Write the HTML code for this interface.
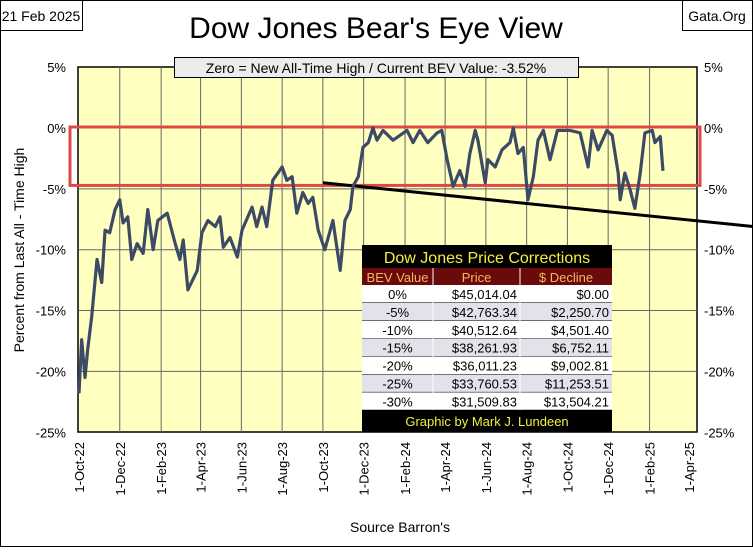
<!DOCTYPE html>
<html><head><meta charset="utf-8"><style>
body{margin:0;width:753px;height:547px;overflow:hidden;background:#fff;font-family:"Liberation Sans",sans-serif}
</style></head><body>
<svg width="753" height="547" xmlns="http://www.w3.org/2000/svg" font-family="Liberation Sans, sans-serif">
<rect x="0.5" y="0.5" width="752" height="546" fill="#fff" stroke="#000"/>
<rect x="0.5" y="0.5" width="82" height="30" fill="#fff" stroke="#000"/>
<text x="41" y="21" font-size="14" text-anchor="middle">21 Feb 2025</text>
<rect x="682.5" y="0.5" width="70" height="30" fill="#fff" stroke="#000"/>
<text x="717" y="21" font-size="14" text-anchor="middle">Gata.Org</text>
<text x="376" y="38" font-size="30" text-anchor="middle">Dow Jones Bear's Eye View</text>
<rect x="78" y="67" width="619" height="365" fill="#ffffc0" stroke="#000" stroke-width="1.5"/>
<g id="grid"></g>
<g id="ylab"></g>
<g id="xlab"></g>
<rect x="174.5" y="57.5" width="404" height="20" fill="#ececec" stroke="#000"/>
<text x="376" y="73" font-size="14" text-anchor="middle">Zero = New All-Time High / Current BEV Value:  -3.52%</text>
<g id="marks"></g>
<text x="400" y="532" font-size="14" text-anchor="middle">Source Barron's</text>
<text transform="translate(24,250) rotate(-90)" font-size="14" text-anchor="middle">Percent from Last All - Time High</text>
<g id="table"></g>
</svg>
<script>
const dayOffsets=[0,4,9,13,19,27,34,39,46,54,61,66,73,79,87,96,103,111,118,132,144,151,156,163,177,184,193,204,211,216,226,237,244,259,266,274,281,290,304,311,319,326,335,343,350,358,368,380,391,398,406,410,418,425,433,440,446,455,470,491,500,510,522,536,543,551,560,570,578,585,593,597,608,612,623,633,645,650,657,665,672,680,687,695,705,716,735,750,762,768,777,790,798,807,810,817,825,832,840,847,858,862,870,874];
const bevValues=[-21.8,-17.4,-20.5,-18.2,-15.5,-10.8,-12.7,-8.4,-8.6,-6.7,-5.9,-7.8,-7.3,-10.8,-9.5,-10.3,-6.7,-10.0,-7.6,-7.0,-9.5,-10.8,-9.2,-13.3,-11.7,-8.6,-7.6,-8.1,-7.3,-9.8,-9.0,-10.6,-8.4,-6.5,-8.1,-6.5,-8.1,-4.3,-3.2,-4.3,-4.0,-7.0,-5.3,-6.2,-5.7,-8.4,-10.0,-7.6,-11.7,-7.6,-6.7,-4.8,-4.0,-1.6,-1.2,0,-1.0,-0.2,-1.0,-0.2,-1.2,-0.2,-1.2,-0.4,-0.2,-2.6,-4.8,-3.5,-4.8,-2.1,-0.2,-1.0,-4.5,-2.6,-3.2,-1.8,-1.2,0,-2.1,-1.6,-5.9,-4.0,-1.0,-0.2,-2.6,-0.2,-0.2,-0.4,-3.2,-0.2,-1.8,-0.2,-0.6,-3.7,-5.9,-3.7,-5.1,-6.6,-3.7,-0.4,-0.2,-1.2,-0.7,-3.52];
const yTicks=[5,0,-5,-10,-15,-20,-25];
const xTickLabels=["1-Oct-22","1-Dec-22","1-Feb-23","1-Apr-23","1-Jun-23","1-Aug-23","1-Oct-23","1-Dec-23","1-Feb-24","1-Apr-24","1-Jun-24","1-Aug-24","1-Oct-24","1-Dec-24","1-Feb-25","1-Apr-25"];
const xTickDays=[0,61,123,182,243,304,365,426,488,548,609,670,731,792,854,913];
const trendDays=[365,1010];
const trendValues=[-4.5,-8.1];
const boxRange=[0,-4.8];
const tblHeader=["BEV Value","Price","$ Decline"];
const tblBev=["0%","-5%","-10%","-15%","-20%","-25%","-30%"];
const tblPrice=["$45,014.04","$42,763.34","$40,512.64","$38,261.93","$36,011.23","$33,760.53","$31,509.83"];
const tblDecline=["$0.00","$2,250.70","$4,501.40","$6,752.11","$9,002.81","$11,253.51","$13,504.21"];

const NS="http://www.w3.org/2000/svg";
const X=d=>79+d*610/913, Y=v=>128-v*12.17;
function mk(t,a,p){const e=document.createElementNS(NS,t);for(const k in a)e.setAttribute(k,a[k]);document.getElementById(p).appendChild(e);return e;}
yTicks.forEach(v=>{
 if(v<5&&v>-25){const l=mk('line',{x1:78,x2:697,y1:Y(v),y2:Y(v),stroke:'#666','stroke-width':1},'grid');
 
 }
 const t=mk('text',{x:66,y:Y(v)+5,'font-size':13,'text-anchor':'end'},'ylab');t.textContent=v+'%';
 
 
 const t2=mk('text',{x:704,y:Y(v)+5,'font-size':13},'ylab');t2.textContent=v+'%';
 
 
});
xTickDays.forEach((d,i)=>{
 if(i>0&&i<xTickDays.length-1){const l=mk('line',{x1:X(d),x2:X(d),y1:67,y2:432,stroke:'#666','stroke-width':1},'grid');
 
 }
 const t=mk('text',{transform:`translate(${X(d)+5},442) rotate(-90)`,'font-size':13,'text-anchor':'end'},'xlab');t.textContent=xTickLabels[i];
 
 
});
const r=mk('rect',{x:70,y:Y(boxRange[0])-1,width:630,height:Y(boxRange[1])-Y(boxRange[0]),fill:'none',stroke:'#e04848','stroke-width':3},'marks');


const tl=mk('line',{x1:X(trendDays[0]),y1:Y(trendValues[0]),x2:X(trendDays[1]),y2:Y(trendValues[1]),stroke:'#000','stroke-width':3},'marks');


const pl=mk('polyline',{points:dayOffsets.map((d,i)=>X(d)+','+Y(bevValues[i])).join(' '),fill:'none',stroke:'#3c4a66','stroke-width':3.2,'stroke-linejoin':'round'},'marks');


// table
const tx=362,cw=[71,87,92],tw=250;
function rect(x,y,w,h,f,name){const e=mk('rect',{x,y,width:w,height:h,fill:f},'table');}
function txt(x,y,s,c,anc,fs,name){const e=mk('text',{x,y,fill:c,'text-anchor':anc,'font-size':fs},'table');e.textContent=s;}
rect(tx,245,tw,23,'#000','table-title-bar');
txt(tx+tw/2,263,'Dow Jones Price Corrections','#f0f040','middle',16,'table-title');
rect(tx,268,tw,17,'#6a0a0a','table-header');
let cx=tx;tblHeader.forEach((h,i)=>{txt(cx+cw[i]/2,282,h,'#f4b860','middle',13,'table-header-cell');cx+=cw[i];});
for(let i=0;i<7;i++){const y=285+i*17.9;
 rect(tx,y,tw,17.9,i%2?'#e2e2ea':'#fff','table-row');
 const ln=mk('line',{x1:tx,x2:tx+tw,y1:y+17.9,y2:y+17.9,stroke:'#000'},'table');
 
 
 txt(tx+cw[0]/2,y+14,tblBev[i],'#000','middle',13,'table-bev-cell');
 txt(tx+cw[0]+cw[1]-3,y+14,tblPrice[i],'#000','end',13,'table-price-cell');
 txt(tx+tw-3,y+14,tblDecline[i],'#000','end',13,'table-decline-cell');
}
[cw[0],cw[0]+cw[1]].forEach(o=>{const l=mk('line',{x1:tx+o,x2:tx+o,y1:268,y2:410,stroke:'#fff'},'table');});
rect(tx,410,tw,22,'#000','table-footer');
txt(tx+tw/2,426,'Graphic by Mark J. Lundeen','#f0f040','middle',13,'table-credit');
</script>
</body></html>
